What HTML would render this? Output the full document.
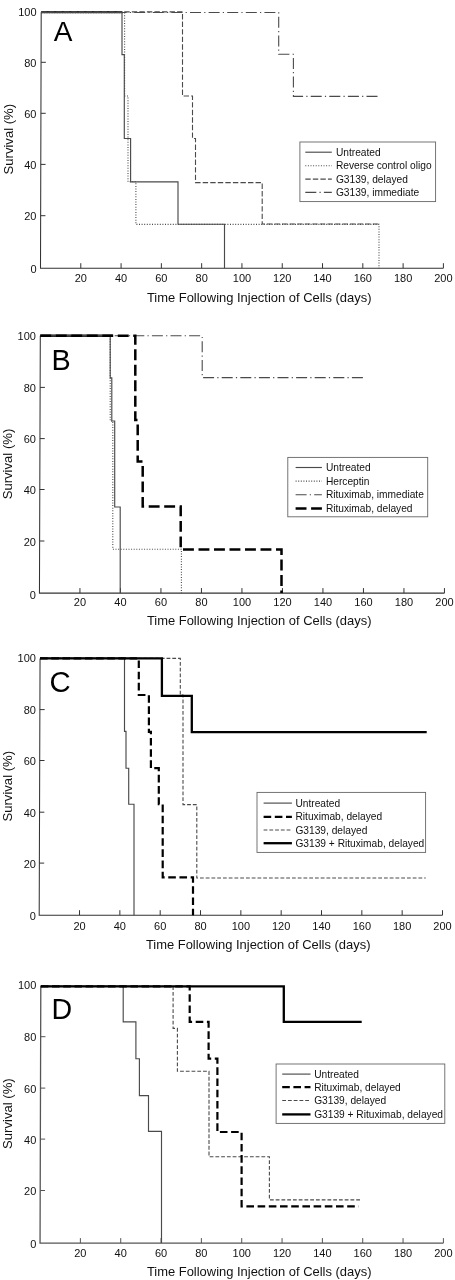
<!DOCTYPE html>
<html lang="en">
<head>
<meta charset="utf-8">
<title>Survival curves</title>
<style>
html,body{margin:0;padding:0;background:#fff;}
body{width:455px;height:1280px;overflow:hidden;}
svg{display:block;}
text{font-family:"Liberation Sans", Arial, Helvetica, sans-serif;fill:#111;}
.tk{font-size:11px;}
.ti{font-size:12.95px;}
.sv{font-size:13.1px;}
.lg{font-size:10.2px;}
.pl{fill:#000;}
</style>
</head>
<body>
<svg width="455" height="1280" viewBox="0 0 455 1280">
<rect width="455" height="1280" fill="#fff"/>
<path d="M41.20 12.30 L40.50 268.20 H443.40" fill="none" stroke="#333" stroke-width="1.05"/>
<text x="36.50" y="15.70" text-anchor="end" class="tk">100</text>
<path d="M41.06 62.30 h4.8" stroke="#333" stroke-width="1"/>
<text x="36.50" y="66.80" text-anchor="end" class="tk">80</text>
<path d="M40.92 113.30 h4.8" stroke="#333" stroke-width="1"/>
<text x="36.50" y="117.80" text-anchor="end" class="tk">60</text>
<path d="M40.78 164.40 h4.8" stroke="#333" stroke-width="1"/>
<text x="36.50" y="168.90" text-anchor="end" class="tk">40</text>
<path d="M40.64 215.70 h4.8" stroke="#333" stroke-width="1"/>
<text x="36.50" y="220.20" text-anchor="end" class="tk">20</text>
<text x="36.50" y="273.30" text-anchor="end" class="tk">0</text>
<path d="M80.79 268.20 v-5" stroke="#333" stroke-width="1"/>
<text x="80.79" y="282.00" text-anchor="middle" class="tk">20</text>
<path d="M121.08 268.20 v-5" stroke="#333" stroke-width="1"/>
<text x="121.08" y="282.00" text-anchor="middle" class="tk">40</text>
<path d="M161.37 268.20 v-5" stroke="#333" stroke-width="1"/>
<text x="161.37" y="282.00" text-anchor="middle" class="tk">60</text>
<path d="M201.66 268.20 v-5" stroke="#333" stroke-width="1"/>
<text x="201.66" y="282.00" text-anchor="middle" class="tk">80</text>
<path d="M241.95 268.20 v-5" stroke="#333" stroke-width="1"/>
<text x="241.95" y="282.00" text-anchor="middle" class="tk">100</text>
<path d="M282.24 268.20 v-5" stroke="#333" stroke-width="1"/>
<text x="282.24" y="282.00" text-anchor="middle" class="tk">120</text>
<path d="M322.53 268.20 v-5" stroke="#333" stroke-width="1"/>
<text x="322.53" y="282.00" text-anchor="middle" class="tk">140</text>
<path d="M362.82 268.20 v-5" stroke="#333" stroke-width="1"/>
<text x="362.82" y="282.00" text-anchor="middle" class="tk">160</text>
<path d="M403.11 268.20 v-5" stroke="#333" stroke-width="1"/>
<text x="403.11" y="282.00" text-anchor="middle" class="tk">180</text>
<path d="M443.40 268.20 v-5" stroke="#333" stroke-width="1"/>
<text x="443.40" y="282.00" text-anchor="middle" class="tk">200</text>
<text x="259.20" y="301.70" text-anchor="middle" class="ti">Time Following Injection of Cells (days)</text>
<text transform="translate(12.85 139.20) rotate(-90)" text-anchor="middle" class="sv">Survival (%)</text>
<text x="53.65" y="40.50" class="pl" font-size="28.0">A</text>
<path d="M41.20 12.15 L122.30 12.15" fill="none" stroke="#222" stroke-width="2.1" />
<path d="M41.20 12.20 L122.00 12.20 L122.00 54.60 L124.30 54.60 L124.30 138.50 L130.60 138.50 L130.60 181.80 L178.00 181.80 L178.00 224.20 L224.50 224.20 L224.50 268.20" fill="none" stroke="#4a4a4a" stroke-width="1.15" />
<path d="M41.20 12.80 L124.60 12.80 L124.60 96.00 L128.00 96.00 L128.00 181.80 L135.90 181.80 L135.90 224.40 L379.00 224.40 L379.00 268.20" fill="none" stroke="#4a4a4a" stroke-width="1.1" stroke-dasharray="1 1.6" />
<path d="M41.20 11.90 L182.50 11.90 L182.50 96.00 L192.50 96.00 L192.50 138.50 L195.50 138.50 L195.50 182.60 L262.20 182.60 L262.20 224.00 L379.00 224.00" fill="none" stroke="#4a4a4a" stroke-width="1.1" stroke-dasharray="5.4 2.15" />
<path d="M41.20 12.50 L278.70 12.50 L278.70 54.30 L293.40 54.30 L293.40 96.40 L379.60 96.40" fill="none" stroke="#4a4a4a" stroke-width="1.1" stroke-dasharray="11 3.2 1.2 3.2" />
<rect x="299.90" y="142.00" width="135.70" height="59.60" fill="#fff" stroke="#666" stroke-width="0.9"/>
<path d="M305.30 152.20 L331.80 152.20" fill="none" stroke="#4a4a4a" stroke-width="1.15" />
<text x="335.90" y="155.80" class="lg">Untreated</text>
<path d="M305.30 165.80 L331.80 165.80" fill="none" stroke="#4a4a4a" stroke-width="1.1" stroke-dasharray="1 1.6" />
<text x="335.90" y="169.40" class="lg">Reverse control oligo</text>
<path d="M305.30 179.10 L331.80 179.10" fill="none" stroke="#4a4a4a" stroke-width="1.1" stroke-dasharray="5.4 2.15" />
<text x="335.90" y="182.70" class="lg">G3139, delayed</text>
<path d="M305.30 192.40 L331.80 192.40" fill="none" stroke="#4a4a4a" stroke-width="1.1" stroke-dasharray="11 3.2 1.2 3.2" />
<text x="335.90" y="196.00" class="lg">G3139, immediate</text>
<path d="M40.30 335.80 L39.45 593.10 H444.45" fill="none" stroke="#333" stroke-width="1.05"/>
<text x="35.90" y="340.00" text-anchor="end" class="tk">100</text>
<path d="M40.13 387.40 h4.8" stroke="#333" stroke-width="1"/>
<text x="35.90" y="391.90" text-anchor="end" class="tk">80</text>
<path d="M39.96 438.60 h4.8" stroke="#333" stroke-width="1"/>
<text x="35.90" y="443.10" text-anchor="end" class="tk">60</text>
<path d="M39.79 489.50 h4.8" stroke="#333" stroke-width="1"/>
<text x="35.90" y="494.00" text-anchor="end" class="tk">40</text>
<path d="M39.62 541.00 h4.8" stroke="#333" stroke-width="1"/>
<text x="35.90" y="545.50" text-anchor="end" class="tk">20</text>
<text x="35.90" y="598.65" text-anchor="end" class="tk">0</text>
<path d="M79.95 593.10 v-5" stroke="#333" stroke-width="1"/>
<text x="79.95" y="605.85" text-anchor="middle" class="tk">20</text>
<path d="M120.45 593.10 v-5" stroke="#333" stroke-width="1"/>
<text x="120.45" y="605.85" text-anchor="middle" class="tk">40</text>
<path d="M160.95 593.10 v-5" stroke="#333" stroke-width="1"/>
<text x="160.95" y="605.85" text-anchor="middle" class="tk">60</text>
<path d="M201.45 593.10 v-5" stroke="#333" stroke-width="1"/>
<text x="201.45" y="605.85" text-anchor="middle" class="tk">80</text>
<path d="M241.95 593.10 v-5" stroke="#333" stroke-width="1"/>
<text x="241.95" y="605.85" text-anchor="middle" class="tk">100</text>
<path d="M282.45 593.10 v-5" stroke="#333" stroke-width="1"/>
<text x="282.45" y="605.85" text-anchor="middle" class="tk">120</text>
<path d="M322.95 593.10 v-5" stroke="#333" stroke-width="1"/>
<text x="322.95" y="605.85" text-anchor="middle" class="tk">140</text>
<path d="M363.45 593.10 v-5" stroke="#333" stroke-width="1"/>
<text x="363.45" y="605.85" text-anchor="middle" class="tk">160</text>
<path d="M403.95 593.10 v-5" stroke="#333" stroke-width="1"/>
<text x="403.95" y="605.85" text-anchor="middle" class="tk">180</text>
<path d="M444.45 593.10 v-5" stroke="#333" stroke-width="1"/>
<text x="444.45" y="605.85" text-anchor="middle" class="tk">200</text>
<text x="259.20" y="625.10" text-anchor="middle" class="ti">Time Following Injection of Cells (days)</text>
<text transform="translate(11.80 464.05) rotate(-90)" text-anchor="middle" class="sv">Survival (%)</text>
<text x="51.60" y="369.60" class="pl" font-size="28.8">B</text>
<path d="M40.30 335.80 L112.80 335.80" fill="none" stroke="#000" stroke-width="2.4" />
<path d="M40.30 335.80 L110.20 335.80 L110.20 377.90 L111.80 377.90 L111.80 421.00 L114.70 421.00 L114.70 507.00 L120.20 507.00 L120.20 593.10" fill="none" stroke="#4a4a4a" stroke-width="1.15" />
<path d="M40.30 335.80 L110.20 335.80 L110.20 421.00 L112.80 421.00 L112.80 549.20 L181.40 549.20 L181.40 593.10" fill="none" stroke="#4a4a4a" stroke-width="1.1" stroke-dasharray="1 1.6" />
<path d="M40.30 335.80 L202.20 335.80 L202.20 377.60 L363.70 377.60" fill="none" stroke="#4a4a4a" stroke-width="1.1" stroke-dasharray="11 3.2 1.2 3.2" />
<path d="M40.30 335.80 L135.30 335.80 L135.30 420.00 L137.70 420.00 L137.70 461.50 L142.70 461.50 L142.70 506.40 L180.70 506.40 L180.70 549.60 L281.50 549.60 L281.50 593.10" fill="none" stroke="#000" stroke-width="2.5" stroke-dasharray="10.9 4.6" />
<rect x="287.80" y="457.40" width="139.90" height="59.40" fill="#fff" stroke="#666" stroke-width="0.9"/>
<path d="M295.60 467.50 L321.90 467.50" fill="none" stroke="#4a4a4a" stroke-width="1.15" />
<text x="325.90" y="471.10" class="lg">Untreated</text>
<path d="M295.60 481.10 L321.90 481.10" fill="none" stroke="#4a4a4a" stroke-width="1.1" stroke-dasharray="1 1.6" />
<text x="325.90" y="484.70" class="lg">Herceptin</text>
<path d="M295.60 494.70 L321.90 494.70" fill="none" stroke="#4a4a4a" stroke-width="1.1" stroke-dasharray="11 3.2 1.2 3.2" />
<text x="325.90" y="498.30" class="lg">Rituximab, immediate</text>
<path d="M295.60 508.40 L321.90 508.40" fill="none" stroke="#000" stroke-width="2.5" stroke-dasharray="10.9 4.6" />
<text x="325.90" y="512.00" class="lg">Rituximab, delayed</text>
<path d="M40.05 658.40 L39.20 915.20 H442.50" fill="none" stroke="#333" stroke-width="1.05"/>
<text x="35.90" y="662.40" text-anchor="end" class="tk">100</text>
<path d="M39.88 709.60 h4.8" stroke="#333" stroke-width="1"/>
<text x="35.90" y="714.10" text-anchor="end" class="tk">80</text>
<path d="M39.71 760.50 h4.8" stroke="#333" stroke-width="1"/>
<text x="35.90" y="765.00" text-anchor="end" class="tk">60</text>
<path d="M39.54 812.20 h4.8" stroke="#333" stroke-width="1"/>
<text x="35.90" y="816.70" text-anchor="end" class="tk">40</text>
<path d="M39.37 863.10 h4.8" stroke="#333" stroke-width="1"/>
<text x="35.90" y="867.60" text-anchor="end" class="tk">20</text>
<text x="35.90" y="920.45" text-anchor="end" class="tk">0</text>
<path d="M79.53 915.20 v-5" stroke="#333" stroke-width="1"/>
<text x="79.53" y="929.55" text-anchor="middle" class="tk">20</text>
<path d="M119.86 915.20 v-5" stroke="#333" stroke-width="1"/>
<text x="119.86" y="929.55" text-anchor="middle" class="tk">40</text>
<path d="M160.19 915.20 v-5" stroke="#333" stroke-width="1"/>
<text x="160.19" y="929.55" text-anchor="middle" class="tk">60</text>
<path d="M200.52 915.20 v-5" stroke="#333" stroke-width="1"/>
<text x="200.52" y="929.55" text-anchor="middle" class="tk">80</text>
<path d="M240.85 915.20 v-5" stroke="#333" stroke-width="1"/>
<text x="240.85" y="929.55" text-anchor="middle" class="tk">100</text>
<path d="M281.18 915.20 v-5" stroke="#333" stroke-width="1"/>
<text x="281.18" y="929.55" text-anchor="middle" class="tk">120</text>
<path d="M321.51 915.20 v-5" stroke="#333" stroke-width="1"/>
<text x="321.51" y="929.55" text-anchor="middle" class="tk">140</text>
<path d="M361.84 915.20 v-5" stroke="#333" stroke-width="1"/>
<text x="361.84" y="929.55" text-anchor="middle" class="tk">160</text>
<path d="M402.17 915.20 v-5" stroke="#333" stroke-width="1"/>
<text x="402.17" y="929.55" text-anchor="middle" class="tk">180</text>
<path d="M442.50 915.20 v-5" stroke="#333" stroke-width="1"/>
<text x="442.50" y="929.55" text-anchor="middle" class="tk">200</text>
<text x="258.20" y="949.30" text-anchor="middle" class="ti">Time Following Injection of Cells (days)</text>
<text transform="translate(11.80 786.25) rotate(-90)" text-anchor="middle" class="sv">Survival (%)</text>
<text x="49.40" y="691.80" class="pl" font-size="29.3">C</text>
<path d="M40.05 658.40 L124.50 658.40 L124.50 731.30 L126.00 731.30 L126.00 768.20 L128.70 768.20 L128.70 804.20 L134.00 804.20 L134.00 915.20" fill="none" stroke="#4a4a4a" stroke-width="1.15" />
<path d="M40.05 658.40 L180.30 658.40 L180.30 695.00 L183.00 695.00 L183.00 804.60 L196.80 804.60 L196.80 878.00 L425.70 878.00" fill="none" stroke="#4a4a4a" stroke-width="1.1" stroke-dasharray="3.8 1.95" />
<path d="M40.05 658.40 L138.80 658.40 L138.80 695.00 L148.90 695.00 L148.90 731.80 L150.90 731.80 L150.90 768.20 L158.80 768.20 L158.80 804.20 L162.70 804.20 L162.70 877.40 L193.00 877.40 L193.00 915.20" fill="none" stroke="#000" stroke-width="2.2" stroke-dasharray="7.6 3.6" />
<path d="M40.05 658.40 L161.90 658.40 L161.90 695.90 L191.80 695.90 L191.80 732.20 L426.70 732.20" fill="none" stroke="#000" stroke-width="2.3" />
<rect x="257.00" y="792.40" width="168.60" height="60.00" fill="#fff" stroke="#666" stroke-width="0.9"/>
<path d="M263.60 803.10 L291.90 803.10" fill="none" stroke="#4a4a4a" stroke-width="1.15" />
<text x="295.45" y="806.70" class="lg">Untreated</text>
<path d="M263.60 816.80 L291.90 816.80" fill="none" stroke="#000" stroke-width="2.2" stroke-dasharray="7.6 3.6" />
<text x="295.45" y="820.40" class="lg">Rituximab, delayed</text>
<path d="M263.60 830.00 L291.90 830.00" fill="none" stroke="#4a4a4a" stroke-width="1.1" stroke-dasharray="3.8 1.95" />
<text x="295.45" y="833.60" class="lg">G3139, delayed</text>
<path d="M263.60 843.20 L291.90 843.20" fill="none" stroke="#000" stroke-width="2.3" />
<text x="295.45" y="846.80" class="lg">G3139 + Rituximab, delayed</text>
<path d="M40.80 986.30 L40.05 1243.10 H443.40" fill="none" stroke="#555" stroke-width="1.30"/>
<text x="36.30" y="989.40" text-anchor="end" class="tk">100</text>
<path d="M40.65 1036.70 h4.8" stroke="#555" stroke-width="1"/>
<text x="36.30" y="1041.20" text-anchor="end" class="tk">80</text>
<path d="M40.50 1088.10 h4.8" stroke="#555" stroke-width="1"/>
<text x="36.30" y="1092.60" text-anchor="end" class="tk">60</text>
<path d="M40.35 1139.10 h4.8" stroke="#555" stroke-width="1"/>
<text x="36.30" y="1143.60" text-anchor="end" class="tk">40</text>
<path d="M40.20 1190.50 h4.8" stroke="#555" stroke-width="1"/>
<text x="36.30" y="1195.00" text-anchor="end" class="tk">20</text>
<text x="36.30" y="1248.00" text-anchor="end" class="tk">0</text>
<path d="M80.38 1243.10 v-5" stroke="#555" stroke-width="1"/>
<text x="80.38" y="1256.50" text-anchor="middle" class="tk">20</text>
<path d="M120.72 1243.10 v-5" stroke="#555" stroke-width="1"/>
<text x="120.72" y="1256.50" text-anchor="middle" class="tk">40</text>
<path d="M161.05 1243.10 v-5" stroke="#555" stroke-width="1"/>
<text x="161.05" y="1256.50" text-anchor="middle" class="tk">60</text>
<path d="M201.39 1243.10 v-5" stroke="#555" stroke-width="1"/>
<text x="201.39" y="1256.50" text-anchor="middle" class="tk">80</text>
<path d="M241.73 1243.10 v-5" stroke="#555" stroke-width="1"/>
<text x="241.73" y="1256.50" text-anchor="middle" class="tk">100</text>
<path d="M282.06 1243.10 v-5" stroke="#555" stroke-width="1"/>
<text x="282.06" y="1256.50" text-anchor="middle" class="tk">120</text>
<path d="M322.39 1243.10 v-5" stroke="#555" stroke-width="1"/>
<text x="322.39" y="1256.50" text-anchor="middle" class="tk">140</text>
<path d="M362.73 1243.10 v-5" stroke="#555" stroke-width="1"/>
<text x="362.73" y="1256.50" text-anchor="middle" class="tk">160</text>
<path d="M403.06 1243.10 v-5" stroke="#555" stroke-width="1"/>
<text x="403.06" y="1256.50" text-anchor="middle" class="tk">180</text>
<path d="M443.40 1243.10 v-5" stroke="#555" stroke-width="1"/>
<text x="443.40" y="1256.50" text-anchor="middle" class="tk">200</text>
<text x="259.20" y="1276.40" text-anchor="middle" class="ti">Time Following Injection of Cells (days)</text>
<text transform="translate(12.10 1113.65) rotate(-90)" text-anchor="middle" class="sv">Survival (%)</text>
<text x="51.60" y="1018.80" class="pl" font-size="28.6">D</text>
<path d="M40.80 986.30 L123.20 986.30 L123.20 1021.80 L135.90 1021.80 L135.90 1058.70 L139.40 1058.70 L139.40 1095.60 L148.50 1095.60 L148.50 1131.40 L161.50 1131.40 L161.50 1243.10" fill="none" stroke="#4a4a4a" stroke-width="1.15" />
<path d="M40.80 986.30 L173.10 986.30 L173.10 1028.40 L177.40 1028.40 L177.40 1071.30 L209.00 1071.30 L209.00 1156.70 L269.40 1156.70 L269.40 1199.90 L361.90 1199.90" fill="none" stroke="#4a4a4a" stroke-width="1.1" stroke-dasharray="3.8 1.95" />
<path d="M40.80 986.30 L189.70 986.30 L189.70 1021.80 L208.60 1021.80 L208.60 1058.70 L217.40 1058.70 L217.40 1132.00 L241.60 1132.00 L241.60 1206.30 L358.60 1206.30" fill="none" stroke="#000" stroke-width="2.2" stroke-dasharray="7.6 3.6" />
<path d="M40.80 986.30 L283.80 986.30 L283.80 1021.90 L361.70 1021.90" fill="none" stroke="#000" stroke-width="2.3" />
<rect x="276.10" y="1064.00" width="168.70" height="59.40" fill="#fff" stroke="#666" stroke-width="0.9"/>
<path d="M282.20 1074.10 L310.50 1074.10" fill="none" stroke="#4a4a4a" stroke-width="1.15" />
<text x="314.15" y="1077.70" class="lg">Untreated</text>
<path d="M282.20 1087.10 L310.50 1087.10" fill="none" stroke="#000" stroke-width="2.2" stroke-dasharray="7.6 3.6" />
<text x="314.15" y="1090.70" class="lg">Rituximab, delayed</text>
<path d="M282.20 1100.50 L310.50 1100.50" fill="none" stroke="#4a4a4a" stroke-width="1.1" stroke-dasharray="3.8 1.95" />
<text x="314.15" y="1104.10" class="lg">G3139, delayed</text>
<path d="M282.20 1114.40 L310.50 1114.40" fill="none" stroke="#000" stroke-width="2.3" />
<text x="314.15" y="1118.00" class="lg">G3139 + Rituximab, delayed</text>
</svg>
</body>
</html>
